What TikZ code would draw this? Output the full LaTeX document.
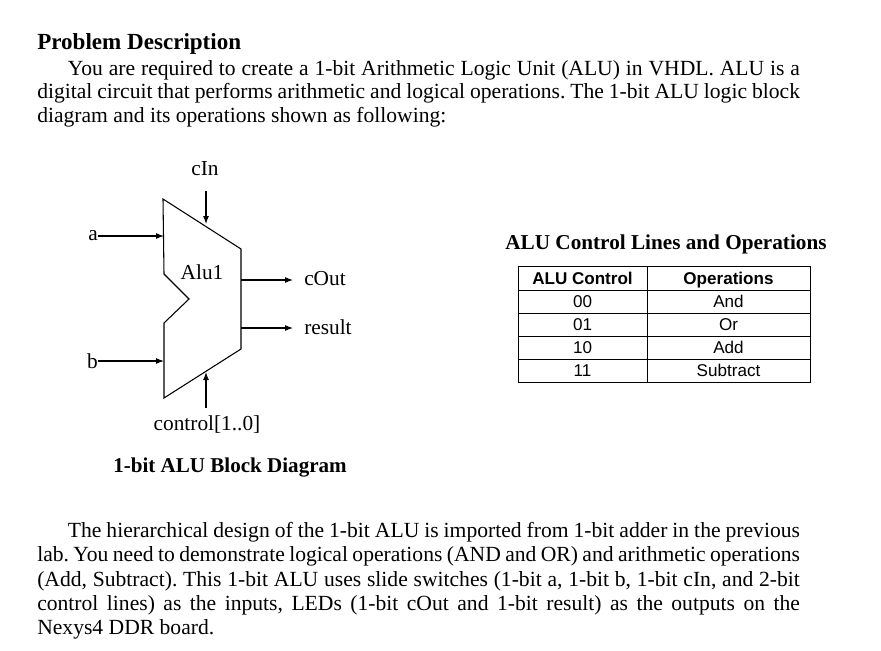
\documentclass[tikz,border=0pt]{standalone}
\usepackage{fontspec}
\setmainfont{Liberation Serif}
\newfontfamily\tabfont{Liberation Sans}
\usetikzlibrary{arrows.meta}
\frenchspacing
\begin{document}
\begin{tikzpicture}[x=0.75pt,y=-0.75pt,
  lbl/.style={font=\fontsize{16}{18}\selectfont,inner sep=0pt},
  par/.style={anchor=north west,inner sep=0pt,text width=572pt,align=justify},
  arr/.style={-{Latex[length=6pt,width=4.5pt]},line width=0.8pt},
  cell/.style={font=\tabfont\fontsize{12.8}{14}\selectfont,inner sep=0pt,anchor=base}]
\useasboundingbox (0,0) rectangle (881,650);
\node[anchor=base west,inner sep=0pt,font=\bfseries\fontsize{17.3}{18}\selectfont] (title) at (37,49) {Problem Description};
\node[par,font=\fontsize{16.2}{17.6}\selectfont] (p1) at (37,60) {\hspace*{23pt}You are required to create a 1-bit Arithmetic Logic Unit (ALU) in VHDL. ALU is a\linebreak digital circuit that performs arithmetic and logical operations. The 1-bit ALU logic block\linebreak diagram and its operations shown as following:};
\node[par,font=\fontsize{16.2}{18.2}\selectfont] (p2) at (37,522) {\hspace*{23pt}The hierarchical design of the 1-bit ALU is imported from 1-bit adder in the previous\linebreak lab. You need to demonstrate logical operations (AND and OR) and arithmetic operations\linebreak (Add, Subtract). This 1-bit ALU uses slide switches (1-bit a, 1-bit b, 1-bit cIn, and 2-bit\linebreak control lines) as the inputs, LEDs (1-bit cOut and 1-bit result) as the outputs on the\linebreak Nexys4 DDR board.};
% ALU
\draw[line width=0.8pt,line join=miter] (163,199) -- (241,249) -- (241,349) -- (164,398) -- (164,323) -- (189,299) -- (164,274) -- cycle;
\node[lbl] (alu) at (202,272) {Alu1};
\node[lbl] (cin) at (205,169) {cIn};
\coordinate (cinS) at (206,191); \coordinate (cinE) at (206,224);
\draw[arr] (cinS) -- (cinE);
\node[lbl,anchor=east] (a) at (98,236) {a};
\coordinate (aE) at (164,236);
\draw[arr] (a.east) -- (aE);
\node[lbl,anchor=east] (b) at (98,361) {b};
\coordinate (bE) at (164,361);
\draw[arr] (b.east) -- (bE);
\node[lbl,anchor=west] (cout) at (304,279) {cOut};
\node[lbl,anchor=west] (res) at (304,327) {result};
\coordinate (coS) at (241,280); \coordinate (coE) at (293,280);
\coordinate (rS) at (241,328); \coordinate (rE) at (293,328);
\draw[arr] (coS) -- (coE);
\draw[arr] (rS) -- (rE);
\node[lbl] (ctl) at (207,425) {control[1..0]};
\coordinate (ctS) at (206,408); \coordinate (ctE) at (206,372);
\draw[arr] (ctS) -- (ctE);
\node[lbl,font=\bfseries\fontsize{15.8}{18}\selectfont] (cap) at (230,468) {1-bit ALU Block Diagram};
% table
\node[lbl,font=\bfseries\fontsize{15.9}{18}\selectfont] (tt) at (666,244) {ALU Control Lines and Operations};
\draw[line width=0.7pt] (518,266) rectangle (810,382);
\foreach \y in {290,313,336,359} \draw[line width=0.6pt] (518,\y) -- (810,\y);
\draw[line width=0.6pt] (647,266) -- (647,382);
\node[cell,font=\tabfont\bfseries\fontsize{12.8}{14}\selectfont] (h1) at (582.5,284) {ALU Control};
\node[cell,font=\tabfont\bfseries\fontsize{12.8}{14}\selectfont] (h2) at (728.5,284) {Operations};
\node[cell] (c1) at (582.5,307.5) {00}; \node[cell] (o1) at (728.5,307.5) {And};
\node[cell] (c2) at (582.5,330.5) {01}; \node[cell] (o2) at (728.5,330.5) {Or};
\node[cell] (c3) at (582.5,353.5) {10}; \node[cell] (o3) at (728.5,353.5) {Add};
\node[cell] (c4) at (582.5,376.5) {11}; \node[cell] (o4) at (728.5,376.5) {Subtract};
\end{tikzpicture}
\end{document}
